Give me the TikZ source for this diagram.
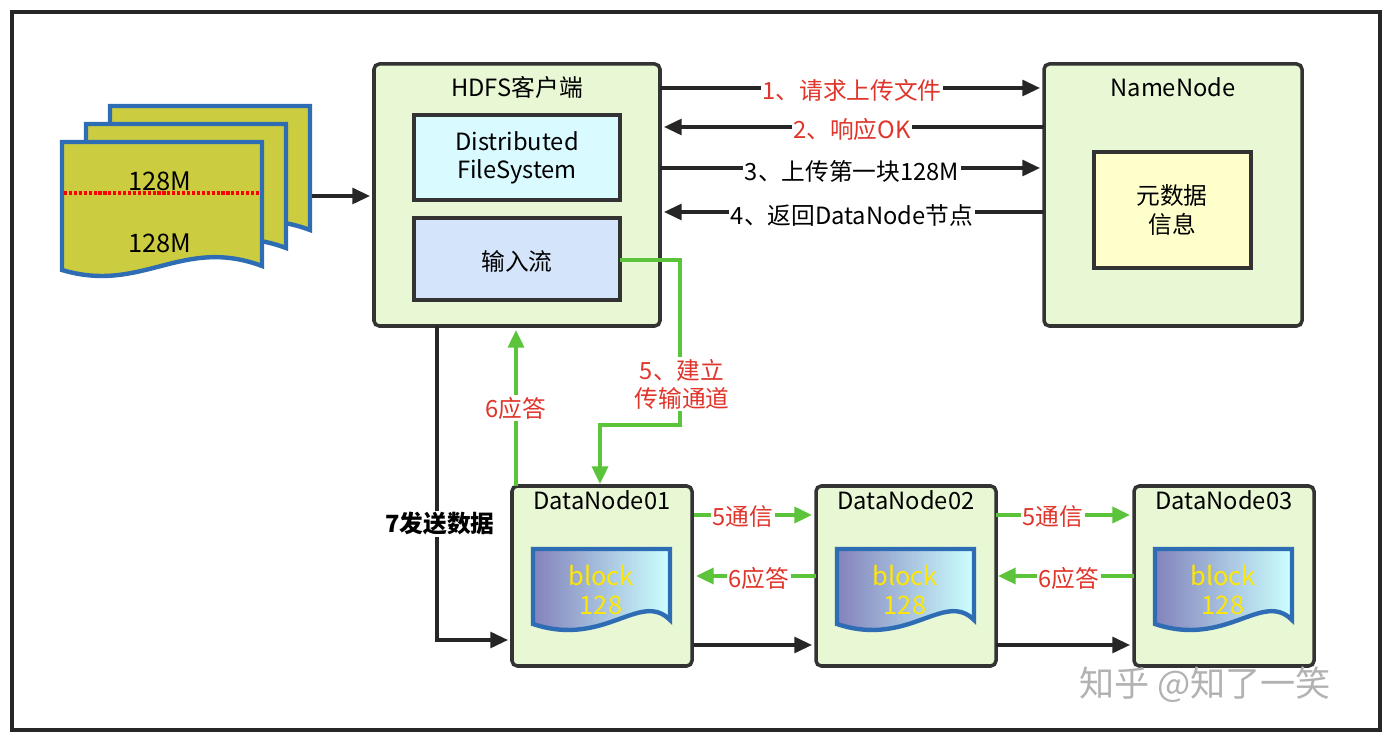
\documentclass[tikz,border=0pt]{standalone}
\usepackage{fontspec}
\setmainfont{Noto Sans CJK SC}
\usetikzlibrary{arrows.meta}
\definecolor{boxg}{HTML}{E8F7D4}
\definecolor{cyanb}{HTML}{D9FAFF}
\definecolor{blueb}{HTML}{D4E4FA}
\definecolor{yel}{HTML}{FFFFCC}
\definecolor{olive}{HTML}{CCCC40}
\definecolor{docb}{HTML}{2E6DB4}
\definecolor{gr}{HTML}{5CC43A}
\definecolor{rd}{HTML}{E0352B}
\tikzset{
 box/.style={draw=black!80,line width=2pt,rounded corners=3pt,fill=boxg},
 inner/.style={draw=black!80,line width=2pt,fill=#1},
 txt/.style={font=\fontsize{13.5}{16}\selectfont,align=center,inner sep=1pt},
 bar/.style={-{Triangle[length=10pt,width=9pt]},line width=1.8pt,black!85},
 gar/.style={-{Triangle[length=10pt,width=9pt]},line width=2.2pt,gr},
 lbl/.style={txt,fill=white,text=#1}
}
\newcommand{\docshape}[5]{% x1 y1 x2 y2 style
 \path[#5] (#1,#2) -- (#3,#2) -- (#3,#4-10) .. controls ({#1+0.6*(#3-#1)},{#4-40}) and ({#1+0.4*(#3-#1)},{#4+18}) .. (#1,#4-6) -- cycle;}
\begin{document}
\begin{tikzpicture}[x=0.02cm,y=-0.02cm]
\useasboundingbox (0,0) rectangle (1390,742);
\fill[white] (0,0) rectangle (1390,742);
\draw[line width=2pt,black!85] (12,12) rectangle (1380,730);
% docs
\docshape{110}{106}{310}{240}{draw=docb,line width=2.5pt,fill=olive}
\docshape{86}{124}{286}{258}{draw=docb,line width=2.5pt,fill=olive}
\docshape{62}{142}{262}{276}{draw=docb,line width=2.5pt,fill=olive}
\coordinate (dl) at (64,193); \coordinate (dr) at (260,193);
\draw[red,densely dotted,line width=1.8pt] (dl) -- (dr);
\node[txt,font=\fontsize{14.5}{16}\selectfont] (m1) at (160,181) {128M};
\node[txt,font=\fontsize{14.5}{16}\selectfont] (m2) at (160,243) {128M};
\coordinate (ds) at (312,196);
% client
\draw[box] (374,64) rectangle (660,326);
\node[txt] (clt) at (517,87) {HDFS客户端};
\draw[inner=cyanb] (414,115) rectangle (620,200);
\node[txt] (dfs) at (517,158) {Distributed\\FileSystem};
\draw[inner=blueb] (414,218) rectangle (620,300);
\node[txt] (in) at (517,261) {输入流};
\coordinate (cle) at (370,196);
\draw[bar] (ds) -- (cle);
% namenode
\draw[box] (1044,64) rectangle (1302,326);
\node[txt] (nnt) at (1173,87) {NameNode};
\draw[inner=yel] (1094,152) rectangle (1251,268);
\node[txt] (meta) at (1172,210) {元数据\\信息};
% arrows top
\coordinate (a1s) at (660,88); \coordinate (a1e) at (1040,88);
\draw[bar] (a1s) -- (a1e);
\node[lbl=rd] at (852,90) {1、请求上传文件};
\coordinate (a2s) at (1044,127); \coordinate (a2e) at (664,127);
\draw[bar] (a2s) -- (a2e);
\node[lbl=rd] at (852,129) {2、响应OK};
\coordinate (a3s) at (660,168); \coordinate (a3e) at (1040,168);
\draw[bar] (a3s) -- (a3e);
\node[lbl=black] at (852,171) {3、上传第一块128M};
\coordinate (a4s) at (1044,212); \coordinate (a4e) at (664,212);
\draw[bar] (a4s) -- (a4e);
\node[lbl=black] at (852,215) {4、返回DataNode节点};
% datanodes
\foreach \x/\n in {512/1,816/2,1134/3}{
 \draw[box] (\x,486) rectangle (\x+180,666);
 \node[txt] (dn\n) at (\x+90,500) {DataNode0\n};
 \docshape{\x+21}{549}{\x+158}{630}{draw=docb,line width=2.5pt,left color=blue!30!gray!75,right color=cyan!20}
 \node[txt,text=yellow!90!orange,font=\fontsize{14.5}{17}\selectfont] (b\n) at (\x+89,590) {block\\128};
}
% green pipeline
\coordinate (p0) at (620,260); \coordinate (p1) at (680,260); \coordinate (p2) at (680,425);
\coordinate (p3) at (600,425); \coordinate (p4) at (600,484);
\draw[gar] (p0) -- (p1) -- (p2) -- (p3) -- (p4);
\node[lbl=rd] at (682,384) {5、建立\\传输通道};
\coordinate (q0) at (516,486); \coordinate (q1) at (516,330);
\draw[gar] (q0) -- (q1);
\node[lbl=rd] at (516,408) {6应答};
% send data
\coordinate (s0) at (437,326); \coordinate (s1) at (437,640); \coordinate (s2) at (508,640);
\draw[bar] (s0) -- (s1) -- (s2);
\node[lbl=black,font=\bfseries\fontsize{13.5}{16}\selectfont] at (440,524) {7发送数据};
% between DNs
\foreach \a/\b in {694/812,996/1130}{
 \draw[gar] (\a,515) -- (\b,515);
 \node[lbl=rd] at ({(\a+\b)/2-10},517) {5通信};
 \draw[gar] (\b+4,576) -- (\a+2,576);
 \node[lbl=rd] at ({(\a+\b)/2+6},578) {6应答};
 \draw[bar] (\a,645) -- (\b,645);
}
\node[txt,text=gray!60,font=\fontsize{20}{22}\selectfont] (wm) at (1205,685) {知乎 @知了一笑};
\end{tikzpicture}
\end{document}
